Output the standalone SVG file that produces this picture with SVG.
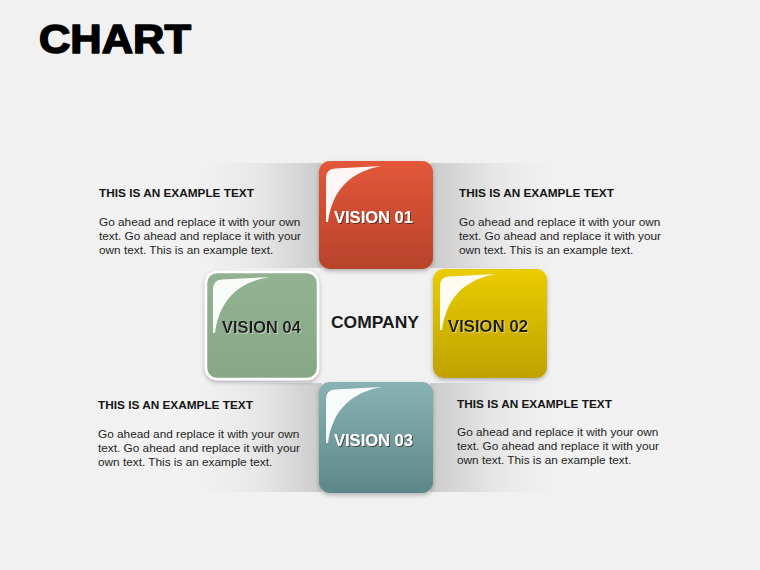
<svg xmlns="http://www.w3.org/2000/svg" width="760" height="570" viewBox="0 0 760 570">
<defs>
<style>
.h{font-family:"Liberation Sans",Arial,sans-serif;font-weight:bold;font-size:11.8px;fill:#141414}
.b{font-family:"Liberation Sans",Arial,sans-serif;font-size:11.8px;fill:#1e1e1e}
.v{font-family:"Liberation Sans",Arial,sans-serif;font-weight:bold;font-size:17px}
.vl{fill:#ffffff;filter:url(#ts)}
.vd{fill:#1b1b1b;filter:url(#tsl)}
.hl{fill:#ffffff;opacity:0.95}
</style>
<linearGradient id="bandL" x1="0" y1="0" x2="1" y2="0">
<stop offset="0" stop-color="#f1f1f1" stop-opacity="0"/>
<stop offset="0.45" stop-color="#f3f3f3" stop-opacity="0.5"/>
<stop offset="0.75" stop-color="#e6e6e6" stop-opacity="1"/>
<stop offset="1" stop-color="#cbcbcb" stop-opacity="1"/>
</linearGradient>
<linearGradient id="bandR" x1="1" y1="0" x2="0" y2="0">
<stop offset="0" stop-color="#f1f1f1" stop-opacity="0"/>
<stop offset="0.45" stop-color="#f3f3f3" stop-opacity="0.5"/>
<stop offset="0.75" stop-color="#e6e6e6" stop-opacity="1"/>
<stop offset="1" stop-color="#cbcbcb" stop-opacity="1"/>
</linearGradient>
<linearGradient id="g1" x1="0" y1="0" x2="0" y2="1">
<stop offset="0" stop-color="#e3573a"/>
<stop offset="1" stop-color="#b7432b"/>
</linearGradient>
<linearGradient id="g2" x1="0" y1="0" x2="0" y2="1">
<stop offset="0" stop-color="#e9cc00"/>
<stop offset="1" stop-color="#bfa200"/>
</linearGradient>
<linearGradient id="g3" x1="0" y1="0" x2="0" y2="1">
<stop offset="0" stop-color="#88b2b4"/>
<stop offset="1" stop-color="#5d8789"/>
</linearGradient>
<linearGradient id="g4" x1="0" y1="0" x2="0" y2="1">
<stop offset="0" stop-color="#92b292"/>
<stop offset="1" stop-color="#87a887"/>
</linearGradient>
<filter id="sh" x="-20%" y="-20%" width="140%" height="140%">
<feDropShadow dx="0" dy="2" stdDeviation="2" flood-color="#000" flood-opacity="0.28"/>
</filter>
<filter id="ts" x="-10%" y="-30%" width="120%" height="160%">
<feDropShadow dx="1" dy="1" stdDeviation="0.6" flood-color="#3a1a10" flood-opacity="0.7"/>
</filter>
<filter id="tsl" x="-10%" y="-30%" width="120%" height="160%">
<feDropShadow dx="1" dy="1" stdDeviation="0.6" flood-color="#ffffff" flood-opacity="0.4"/>
</filter>
<path id="gloss" d="M7,61 L7,17 Q7,8 16,7.5 L63,5 C35,10 14,25 9,61 Z"/>
</defs>
<rect x="0" y="0" width="760" height="570" fill="#f1f1f1"/>

<g id="title">
<text x="39" y="53" font-family="'Liberation Sans',Arial,sans-serif" font-weight="bold" font-size="40.5" fill="#000" stroke="#000" stroke-width="1.6" stroke-linejoin="round" textLength="152" lengthAdjust="spacingAndGlyphs">CHART</text>
</g>

<g id="bands">
<rect x="80" y="163" width="242" height="105" fill="url(#bandL)"/>
<rect x="430" y="163" width="250" height="105" fill="url(#bandR)"/>
<rect x="80" y="383" width="242" height="109" fill="url(#bandL)"/>
<rect x="430" y="383" width="250" height="109" fill="url(#bandR)"/>
</g>

<g id="connectors"></g>

<g id="vision01">
<rect x="319" y="161" width="114" height="108" rx="11" fill="url(#g1)" filter="url(#sh)"/>
<use href="#gloss" x="319" y="161" class="hl"/>
<text x="334" y="223" class="v vl" textLength="79" lengthAdjust="spacingAndGlyphs">VISION 01</text>
</g>

<g id="vision02">
<rect x="433" y="269" width="114" height="109" rx="11" fill="url(#g2)" filter="url(#sh)"/>
<use href="#gloss" x="433" y="269" class="hl"/>
<text x="448" y="332" class="v vd" textLength="80" lengthAdjust="spacingAndGlyphs">VISION 02</text>
</g>

<g id="vision03">
<rect x="319" y="382" width="114" height="111" rx="11" fill="url(#g3)" filter="url(#sh)"/>
<use href="#gloss" x="319" y="382" class="hl"/>
<text x="334" y="446" class="v vl" textLength="79" lengthAdjust="spacingAndGlyphs">VISION 03</text>
</g>

<g id="vision04">
<rect x="206" y="272" width="112" height="107" rx="11" fill="url(#g4)" stroke="#ffffff" stroke-width="2.5" filter="url(#sh)"/>
<use href="#gloss" x="206" y="272" class="hl"/>
<text x="222" y="333" class="v vd" textLength="79" lengthAdjust="spacingAndGlyphs">VISION 04</text>
</g>

<g id="company">
<text x="331" y="328" class="v" fill="#1b1b1b" textLength="88" lengthAdjust="spacingAndGlyphs">COMPANY</text>
</g>

<g id="text-upper-left">
<text x="99" y="197" class="h">THIS IS AN EXAMPLE TEXT</text>
<text x="99" y="226" class="b">Go ahead and replace it with your own</text>
<text x="99" y="240" class="b">text. Go ahead and replace it with your</text>
<text x="99" y="254" class="b">own text. This is an example text.</text>
</g>

<g id="text-upper-right">
<text x="459" y="197" class="h">THIS IS AN EXAMPLE TEXT</text>
<text x="459" y="226" class="b">Go ahead and replace it with your own</text>
<text x="459" y="240" class="b">text. Go ahead and replace it with your</text>
<text x="459" y="254" class="b">own text. This is an example text.</text>
</g>

<g id="text-lower-left">
<text x="98" y="409" class="h">THIS IS AN EXAMPLE TEXT</text>
<text x="98" y="438" class="b">Go ahead and replace it with your own</text>
<text x="98" y="452" class="b">text. Go ahead and replace it with your</text>
<text x="98" y="466" class="b">own text. This is an example text.</text>
</g>

<g id="text-lower-right">
<text x="457" y="408" class="h">THIS IS AN EXAMPLE TEXT</text>
<text x="457" y="436" class="b">Go ahead and replace it with your own</text>
<text x="457" y="450" class="b">text. Go ahead and replace it with your</text>
<text x="457" y="464" class="b">own text. This is an example text.</text>
</g>
</svg>
